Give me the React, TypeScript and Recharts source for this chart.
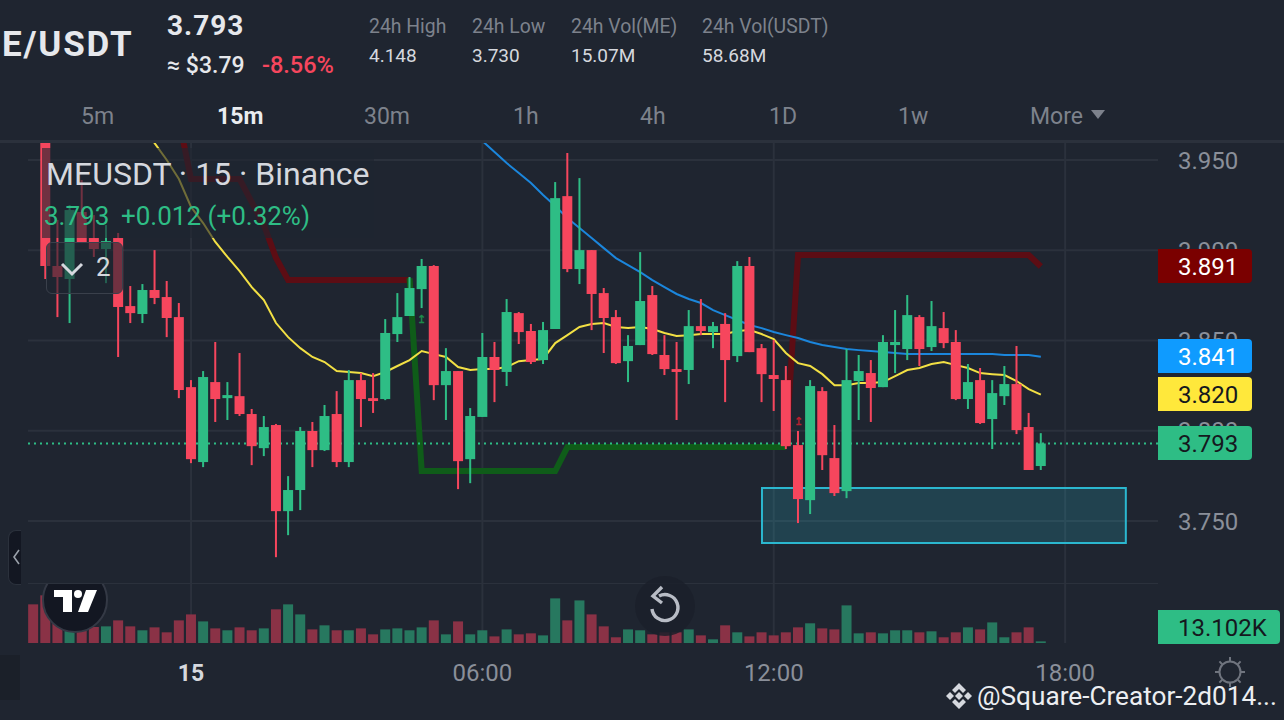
import {Bar, CartesianGrid, ComposedChart, Line, ReferenceArea, ReferenceDot, ReferenceLine, XAxis, YAxis} from "recharts";

const FONT = "Roboto, sans-serif";
const BG = "#1f2530";
const GRID = "#2b313c";
const UP = "#2ebd85";
const DOWN = "#f6465d";

// candle slots, 15m each, slot 0 is the start of the 15th
const firstSlot = -13;
const opens = [3.9777, 3.9666, 3.8913, 3.8841, 3.9212, 3.9068, 3.9007, 3.9068, 3.8691, 3.8647, 3.878, 3.8741, 3.863, 3.8242, 3.7827, 3.827, 3.8181, 3.8192, 3.8093, 3.7904, 3.8032, 3.7555, 3.7672, 3.7999, 3.7893, 3.8093, 3.7827, 3.8281, 3.8181, 3.8176, 3.8536, 3.8636, 3.8785, 3.8913, 3.8253, 3.8331, 3.7843, 3.8077, 3.8409, 3.8326, 3.8652, 3.8553, 3.8392, 3.8564, 3.93, 3.8896, 3.9001, 3.8763, 3.863, 3.8386, 3.8475, 3.8752, 3.842, 3.8342, 3.8337, 3.858, 3.8547, 3.8592, 3.8414, 3.8913, 3.8458, 3.8309, 3.8281, 3.7921, 3.7616, 3.822, 3.7849, 3.7666, 3.8276, 3.832, 3.8242, 3.8475, 3.8453, 3.863, 3.8464, 3.8569, 3.8492, 3.8176, 3.8281, 3.8065, 3.8192, 3.8259, 3.8021, 3.7805];
const highs = [3.9832, 3.9722, 3.9168, 3.925, 3.9389, 3.9195, 3.914, 3.9096, 3.8802, 3.8813, 3.9001, 3.883, 3.8708, 3.8281, 3.8331, 3.8492, 3.827, 3.8431, 3.8121, 3.8082, 3.8038, 3.7749, 3.8021, 3.8049, 3.8143, 3.822, 3.8337, 3.832, 3.832, 3.8619, 3.8763, 3.8852, 3.8952, 3.8918, 3.8458, 3.8331, 3.8126, 3.8542, 3.8492, 3.873, 3.8658, 3.8592, 3.8603, 3.9378, 3.9539, 3.94, 3.9001, 3.8791, 3.8669, 3.853, 3.899, 3.8802, 3.853, 3.8492, 3.8669, 3.873, 3.8603, 3.8652, 3.894, 3.8963, 3.8481, 3.8503, 3.8359, 3.7999, 3.8281, 3.8242, 3.8032, 3.8453, 3.842, 3.8392, 3.853, 3.8669, 3.8752, 3.8641, 3.8719, 3.8658, 3.8558, 3.837, 3.8348, 3.8281, 3.8359, 3.847, 3.8099, 3.7987];
const lows = [3.96, 3.8841, 3.863, 3.8597, 3.904, 3.8963, 3.8818, 3.8409, 3.8597, 3.8597, 3.8702, 3.8519, 3.8181, 3.7821, 3.7799, 3.8049, 3.806, 3.8082, 3.781, 3.786, 3.73, 3.7422, 3.7561, 3.7799, 3.7888, 3.7799, 3.7799, 3.8021, 3.8099, 3.817, 3.8492, 3.8636, 3.868, 3.817, 3.806, 3.7677, 3.771, 3.8077, 3.8159, 3.8248, 3.8481, 3.837, 3.837, 3.8564, 3.8879, 3.8813, 3.8558, 3.8431, 3.837, 3.827, 3.8475, 3.842, 3.8309, 3.806, 3.8259, 3.853, 3.8458, 3.8159, 3.8381, 3.8436, 3.8159, 3.811, 3.7899, 3.7489, 3.7539, 3.7783, 3.7639, 3.7627, 3.806, 3.8049, 3.8242, 3.832, 3.8392, 3.8359, 3.8442, 3.8458, 3.817, 3.8121, 3.8038, 3.7899, 3.8143, 3.7982, 3.7783, 3.7783];
const closes = [3.9666, 3.8913, 3.8852, 3.9223, 3.9046, 3.9007, 3.9051, 3.8686, 3.8652, 3.878, 3.8736, 3.8625, 3.8226, 3.7843, 3.8298, 3.8176, 3.8198, 3.8093, 3.7915, 3.8021, 3.7555, 3.7672, 3.7999, 3.7893, 3.8082, 3.7827, 3.8281, 3.8176, 3.8165, 3.8542, 3.863, 3.8791, 3.8913, 3.8253, 3.8331, 3.7832, 3.8082, 3.8409, 3.8337, 3.8658, 3.8547, 3.8381, 3.8558, 3.9289, 3.8896, 3.9001, 3.8758, 3.8625, 3.8375, 3.847, 3.8719, 3.8425, 3.8342, 3.8326, 3.858, 3.8553, 3.858, 3.8392, 3.8913, 3.8436, 3.8314, 3.8287, 3.7915, 3.7622, 3.8248, 3.7865, 3.7655, 3.8281, 3.8331, 3.8237, 3.8492, 3.8492, 3.8641, 3.8453, 3.858, 3.8486, 3.8176, 3.827, 3.8043, 3.8209, 3.8259, 3.8004, 3.7783, 3.793];
// volume in thousands
const volumes = [304, 375, 210, 144, 118, 126, 131, 178, 131, 100, 123, 84, 178, 225, 170, 115, 100, 123, 100, 115, 265, 304, 225, 107, 139, 100, 100, 115, 68, 107, 115, 100, 123, 178, 68, 170, 68, 100, 52, 107, 68, 76, 60, 351, 178, 335, 225, 131, 45, 107, 100, 68, 84, 84, 107, 60, 29, 139, 84, 52, 84, 60, 84, 123, 155, 115, 107, 296, 76, 84, 76, 100, 100, 84, 92, 45, 84, 123, 107, 162, 45, 84, 123, 13];

const maStart = -4;
const maValues = [3.9677, 3.9594, 3.95, 3.9395, 3.924, 3.9151, 3.9046, 3.8963, 3.8885, 3.8796, 3.8724, 3.8597, 3.8519, 3.8458, 3.8409, 3.8381, 3.8331, 3.8326, 3.832, 3.8303, 3.8326, 3.8359, 3.8392, 3.8442, 3.8425, 3.8409, 3.8353, 3.8337, 3.8342, 3.8342, 3.8353, 3.8386, 3.8392, 3.8398, 3.8486, 3.853, 3.8575, 3.8592, 3.8597, 3.8575, 3.8569, 3.8575, 3.8564, 3.8542, 3.8525, 3.853, 3.8536, 3.8536, 3.8536, 3.8553, 3.8558, 3.8536, 3.8508, 3.8431, 3.8375, 3.8359, 3.8314, 3.8253, 3.8253, 3.8265, 3.8265, 3.827, 3.8303, 3.8337, 3.8348, 3.837, 3.8381, 3.8364, 3.8348, 3.832, 3.8314, 3.8309, 3.8276, 3.8231, 3.82];
const emaStart = 23;
const emaValues = [3.9666, 3.9605, 3.9544, 3.9483, 3.9428, 3.9373, 3.9306, 3.9245, 3.9179, 3.9123, 3.9068, 3.9012, 3.8957, 3.8918, 3.8879, 3.8835, 3.8796, 3.8758, 3.873, 3.8708, 3.8669, 3.8641, 3.8614, 3.8586, 3.8569, 3.8547, 3.853, 3.8514, 3.8492, 3.8475, 3.8464, 3.8453, 3.8447, 3.8442, 3.8436, 3.8431, 3.8425, 3.8425, 3.8425, 3.8425, 3.8425, 3.8425, 3.8425, 3.8425, 3.842, 3.842, 3.842, 3.841];
const trendDownStart = -1;
const trendDownValues = [3.9722, 3.9395, 3.9395, 3.9395, 3.9395, 3.9395, 3.9267, 3.914, 3.8957, 3.8835, 3.8835, 3.8835, 3.8835, 3.8835, 3.8835, 3.8835, 3.8835, 3.8835, 3.8835, 3.8835, null, null, null, null, null, null, null, null, null, null, null, null, null, null, null, null, null, null, null, null, null, null, null, null, null, null, null, null, null, null, 3.791, 3.8974, 3.8974, 3.8974, 3.8974, 3.8974, 3.8974, 3.8974, 3.8974, 3.8974, 3.8974, 3.8974, 3.8974, 3.8974, 3.8974, 3.8974, 3.8974, 3.8974, 3.8974, 3.8974, 3.8974, 3.891];
const trendUpStart = 18;
const trendUpValues = [3.8846, 3.7777, 3.7777, 3.7777, 3.7777, 3.7777, 3.7777, 3.7777, 3.7777, 3.7777, 3.7777, 3.7777, 3.7777, 3.791, 3.791, 3.791, 3.791, 3.791, 3.791, 3.791, 3.791, 3.791, 3.791, 3.791, 3.791, 3.791, 3.791, 3.791, 3.791, 3.791, 3.791, 3.791];

const priceTicks = [3.95, 3.9, 3.85, 3.8, 3.75];
const timeTicks = [0, 24, 48, 72];
const timeLabels = ["15", "06:00", "12:00", "18:00"];
const lastPrice = 3.793;
const zone = {fromSlot: 47.03, toSlot: 77, top: 3.7683, bottom: 3.7378};

const statLabels = ["24h High", "24h Low", "24h Vol(ME)", "24h Vol(USDT)"];
const statValues = ["4.148", "3.730", "15.07M", "58.68M"];
const statLefts = [369, 472, 571, 702];
const tabs = ["5m", "15m", "30m", "1h", "4h", "1D", "1w", "More"];
const tabLefts = [81, 217, 364, 513, 640, 769, 898, 1030];

const rows = opens.map((open, i) => {
    const slot = firstSlot + i;
    return {
        slot,
        open,
        high: highs[i],
        low: lows[i],
        close: closes[i],
        volume: volumes[i],
        ma: maValues[slot - maStart] ?? null,
        ema: emaValues[slot - emaStart] ?? null,
        trendDown: trendDownValues[slot - trendDownStart] ?? null,
        trendUp: trendUpValues[slot - trendUpStart] ?? null,
    };
});

const slotDomain = [-13.43, 79.65];
const priceDomain = [3.7157, 3.9611];

function Candle(props: any) {
    const {x, y, width, height, payload} = props;
    const span = payload.high - payload.low || 1;
    const pixel = (price: number) => y + ((payload.high - price) / span) * height;
    const top = pixel(Math.max(payload.open, payload.close));
    const bottom = pixel(Math.min(payload.open, payload.close));
    const color = payload.close >= payload.open ? UP : DOWN;
    return (
        <g>
            <rect x={x + width / 2 - 1} y={y} width={2} height={height} fill={color} />
            <rect x={x} y={top} width={width} height={Math.max(bottom - top, 2)} fill={color} />
        </g>
    );
}

function VolumeBar(props: any) {
    const {x, y, width, height, payload} = props;
    const color = payload.close >= payload.open ? "#27785f" : "#8a3246";
    return <rect x={x} y={y} width={width} height={height} fill={color} />;
}

function TimeTick(props: any) {
    const {x, y, payload} = props;
    const label = timeLabels[timeTicks.indexOf(payload.value)];
    const bold = label === "15";
    return (
        <text x={x} y={y + 30} textAnchor="middle" fontFamily={FONT} fontSize={bold ? 23 : 24}
              fontWeight={bold ? 700 : 400} fill={bold ? "#d5d8de" : "#8a8f99"}>
            {label}
        </text>
    );
}

function SignalMark(props: any) {
    const {cx, cy, fill} = props;
    return <text x={cx} y={cy} textAnchor="middle" dominantBaseline="middle" fontFamily={FONT} fontSize={11} fontWeight={700} fill={fill}>{"\u21A5"}</text>;
}

function PriceTag({top, left = 1158, width = 94, bg, color, children}: any) {
    return (
        <div style={{position: "absolute", left, top, width: width - 20, height: 34, paddingLeft: 20, background: bg, color,
            borderRadius: "0 4px 4px 0", font: `24px/37px ${FONT}`}}>
            {children}
        </div>
    );
}

function label(left: number, top: number, text: string, size: number, color: string, weight = 400, spacing = 0) {
    return (
        <div key={text + left} style={{position: "absolute", left, top, color, whiteSpace: "nowrap", letterSpacing: spacing,
            font: `${weight} ${size}px/1 ${FONT}`}}>
            {text}
        </div>
    );
}

function Header() {
    return (
        <div style={{position: "absolute", left: 0, top: 0, width: 1284, height: 140, background: BG, borderBottom: `3px solid ${GRID}`}}>
            {label(2, 27, "E/USDT", 35, "#e6e8ec", 700, 1.8)}
            {label(167, 12, "3.793", 28, "#e6e8ec", 700, 1)}
            {label(167, 54, "\u2248 $3.79", 23, "#e6e8ec", 500)}
            {label(262, 54, "-8.56%", 23.5, DOWN, 500)}
            {statLabels.map((text, i) => label(statLefts[i], 17, text, 19.4, "#7d828c"))}
            {statValues.map((text, i) => label(statLefts[i], 46, text, 19, "#d5d8de"))}
            {tabs.map((text, i) => label(tabLefts[i], 105, text, 23, text === "15m" ? "#eaecef" : "#7d828c", text === "15m" ? 700 : 400))}
            <svg style={{position: "absolute", left: 1091, top: 110}} width={14} height={9}>
                <path d="M0 0H14L7 9Z" fill="#7d828c" />
            </svg>
        </div>
    );
}

function Legend() {
    return (
        <>
            <div style={{position: "absolute", left: 42, top: 148, width: 332, height: 90, background: "rgba(31,37,48,0.62)"}} />
            {label(46, 158, "MEUSDT \u00B7 15 \u00B7 Binance", 32, "#d5d8de")}
            {label(44, 203, "3.793", 26, UP)}
            {label(121, 203, "+0.012 (+0.32%)", 26, UP)}
            <div style={{position: "absolute", left: 46, top: 242, width: 75, height: 50, borderRadius: 6, border: "1.5px solid #3a404b",
                background: "rgba(31,37,48,0.62)"}} />
            <svg style={{position: "absolute", left: 60, top: 261}} width={24} height={16}>
                <path d="M2 3L12 13L22 3" fill="none" stroke="#d5d8de" strokeWidth={3} />
            </svg>
            {label(96, 254, "2", 26, "#d5d8de")}
        </>
    );
}

function Overlays() {
    return (
        <>
            {/* collapse tab */}
            <div style={{position: "absolute", left: 8, top: 530, width: 12, height: 53, background: "#131722", borderRadius: "8px 0 0 8px",
                border: "1px solid #2b313c", borderRight: "none"}} />
            <svg style={{position: "absolute", left: 13, top: 549}} width={8} height={16}>
                <path d="M6 1L1 8L6 15" fill="none" stroke="#9aa0aa" strokeWidth={1.6} />
            </svg>
            <div style={{position: "absolute", left: 0, top: 655, width: 20, height: 45, background: "#1b2029"}} />
            {/* tradingview badge */}
            <svg style={{position: "absolute", left: 40, top: 584}} width={70} height={50}>
                <g transform="translate(-40,-584)">
                    <circle cx={75} cy={600} r={32} fill="#131722" stroke="#343945" strokeWidth={2} />
                    <path d="M54 590H72V612H63V597H54Z" fill="#fff" />
                    <circle cx={78} cy={594} r={4} fill="#fff" />
                    <path d="M86 590H97L88 612H78Z" fill="#fff" />
                </g>
            </svg>
            {/* back to latest */}
            <svg style={{position: "absolute", left: 635, top: 576}} width={60} height={60}>
                <circle cx={30} cy={30} r={30} fill="rgba(27,32,42,0.85)" />
                <path d="M24 20A13 13 0 1 1 17 33" fill="none" stroke="#b8bcc5" strokeWidth={3.4} />
                <path d="M27 11L18 20L27 27" fill="none" stroke="#b8bcc5" strokeWidth={3.4} />
            </svg>
            <PriceTag top={249} bg="#7a0000" color="#fff">3.891</PriceTag>
            <PriceTag top={339} bg="#0f9bff" color="#fff">3.841</PriceTag>
            <PriceTag top={377} bg="#ffe83b" color="#15181e">3.820</PriceTag>
            <PriceTag top={426} bg={UP} color="#15181e">3.793</PriceTag>
            <PriceTag top={610} width={122} bg={UP} color="#15181e">13.102K</PriceTag>
            {/* sun */}
            <svg style={{position: "absolute", left: 1214, top: 656}} width={32} height={32}>
                <circle cx={16} cy={16} r={10.5} fill="none" stroke="#6f747e" strokeWidth={2} />
                <path d="M16 1V5M16 27V31M1 16H5M27 16H31M5.4 5.4L8.2 8.2M23.8 23.8L26.6 26.6M5.4 26.6L8.2 23.8M23.8 8.2L26.6 5.4" stroke="#6f747e" strokeWidth={2} />
            </svg>
            {/* watermark */}
            <svg style={{position: "absolute", left: 945, top: 682}} width={28} height={28}>
                <path d="M14 1L21 8L18 11L14 7L10 11L7 8ZM14 27L7 20L10 17L14 21L18 17L21 20ZM1 14L5 10L9 14L5 18ZM19 14L23 10L27 14L23 18ZM14 10L18 14L14 18L10 14Z" fill="#d5d8de" />
            </svg>
            {label(977, 683, "@Square-Creator-2d014...", 26.2, "#eceef1")}
        </>
    );
}

export default function App() {
    return (
        <div style={{position: "fixed", left: 0, top: 0, width: 1284, height: 720, overflow: "hidden", background: BG}}>
            <div style={{position: "absolute", left: 0, top: 0}}>
                <ComposedChart width={1284} height={583} data={rows} margin={{top: 140, right: 0, bottom: 0, left: 28}}>
                    <CartesianGrid stroke={GRID} strokeWidth={2} horizontalValues={priceTicks} verticalValues={timeTicks} />
                    <XAxis type="number" dataKey="slot" hide domain={slotDomain} allowDataOverflow ticks={timeTicks} />
                    <YAxis orientation="right" width={126} domain={priceDomain} allowDataOverflow ticks={priceTicks} interval={0}
                           axisLine={false} tickLine={false} tickMargin={14} tickFormatter={(v: number) => v.toFixed(3)}
                           tick={{fill: "#8a8f99", fontSize: 24, fontFamily: FONT, textAnchor: "start"}} />
                    <ReferenceArea x1={zone.fromSlot} x2={zone.toSlot} y1={zone.bottom} y2={zone.top} fill="#2bb7cf" fillOpacity={0.2}
                                   stroke="#2bb7cf" strokeWidth={2} strokeOpacity={1} />
                    <Line dataKey="trendDown" stroke="#5c0d14" strokeWidth={6} dot={false} isAnimationActive={false} strokeLinejoin="miter" />
                    <Line dataKey="trendUp" stroke="#0f5c19" strokeWidth={6} dot={false} isAnimationActive={false} strokeLinejoin="miter" />
                    <Line dataKey="ema" stroke="#1b86dc" strokeWidth={2} dot={false} isAnimationActive={false} />
                    <Line dataKey="ma" stroke="#f2e044" strokeWidth={2} dot={false} isAnimationActive={false} />
                    <ReferenceLine y={lastPrice} stroke={UP} strokeWidth={2} strokeDasharray="2 4" />
                    <Bar dataKey={(d: any) => [d.low, d.high]} barSize={10} shape={<Candle />} isAnimationActive={false} zIndex={600} />
                    <ReferenceDot x={19} y={3.8614} r={5} fill="#1c8a4a" stroke="none" shape={<SignalMark />} />
                    <ReferenceDot x={50} y={3.8049} r={5} fill="#b3202f" stroke="none" shape={<SignalMark />} />
                </ComposedChart>
            </div>
            <div style={{position: "absolute", left: 0, top: 583}}>
                <ComposedChart width={1284} height={137} data={rows} margin={{top: 0, right: 126, bottom: 0, left: 28}}>
                    <CartesianGrid stroke={GRID} strokeWidth={2} horizontal={false} verticalValues={timeTicks} />
                    <XAxis type="number" dataKey="slot" height={77} domain={slotDomain} allowDataOverflow ticks={timeTicks} interval={0}
                           axisLine={false} tickLine={false} tick={<TimeTick />} />
                    <YAxis hide domain={[0, 472]} />
                    <ReferenceLine y={472} stroke={GRID} strokeWidth={2} />
                    <Bar dataKey="volume" barSize={10} shape={<VolumeBar />} isAnimationActive={false} />
                </ComposedChart>
            </div>
            <Legend />
            <Overlays />
            <Header />
        </div>
    );
}
